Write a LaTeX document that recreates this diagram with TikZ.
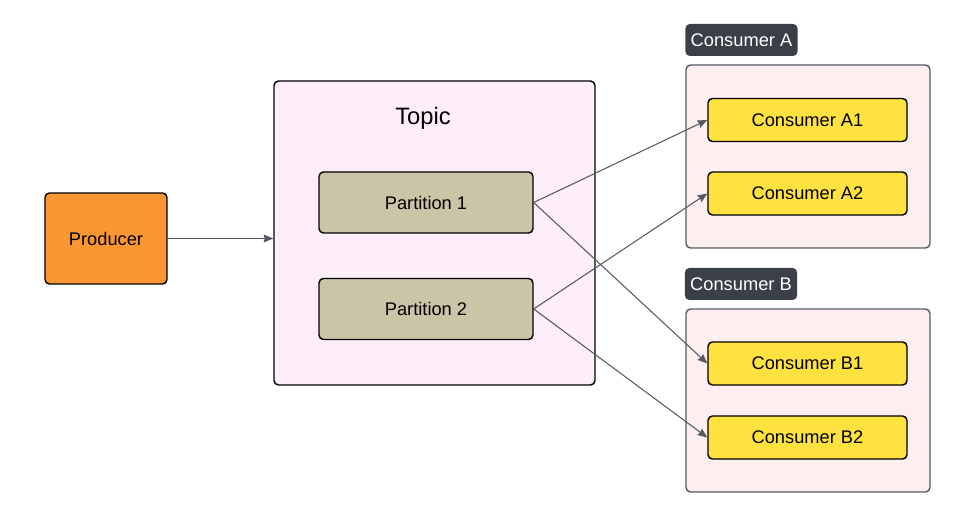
\documentclass[tikz,border=0pt]{standalone}
\usepackage{fontspec}
\setmainfont{Liberation Sans}
\usetikzlibrary{arrows.meta,positioning}
\definecolor{prodorange}{HTML}{FA9732}
\definecolor{topicpink}{HTML}{FDEEFA}
\definecolor{partkhaki}{HTML}{CCC4A6}
\definecolor{grouprose}{HTML}{FDEFEF}
\definecolor{consyellow}{HTML}{FFE240}
\definecolor{labelslate}{HTML}{3A3F48}
\definecolor{linkgray}{HTML}{555A62}

\begin{document}
\begin{tikzpicture}[x=0.02cm,y=-0.02cm,
    every node/.style={font=\fontsize{10.4}{12}\selectfont, text=black},
    box/.style={draw=black, line width=0.8pt, rounded corners=2.5pt, align=center, inner sep=0pt},
    producer/.style={box, fill=prodorange, minimum width=2.44cm, minimum height=1.82cm},
    partition/.style={box, fill=partkhaki, minimum width=4.28cm, minimum height=1.22cm},
    consumer/.style={box, fill=consyellow, minimum width=3.98cm, minimum height=0.86cm},
    topicbox/.style={box, fill=topicpink, minimum width=6.42cm, minimum height=6.08cm},
    groupbox/.style={draw=linkgray, line width=0.8pt, rounded corners=2.5pt, fill=grouprose, minimum width=4.88cm, minimum height=3.66cm},
    grouplabel/.style={fill=labelslate, text=white, rounded corners=2.5pt, inner xsep=3pt, minimum height=0.64cm},
    link/.style={draw=linkgray, line width=0.6pt, -{Stealth[length=5.5pt,width=4.5pt,inset=0.6pt]}}]
    \useasboundingbox (0,0) rectangle (975,516);

    % Topic container
    \node[topicbox] (topic) at (434.5,233) {};
    \node[font=\fontsize{13.5}{16}\selectfont] (topictitle) at (423,118) {Topic};
    \node[partition] (part1) at (426,202.5) {Partition 1};
    \node[partition] (part2) at (426,309) {Partition 2};

    % Producer
    \node[producer] (producer) at (106,238.5) {Producer};

    % Consumer groups
    \node[groupbox] (groupA) at (808,156.5) {};
    \node[grouplabel] (labelA) at (741.5,40) {Consumer A};
    \node[consumer] (consA1) at (807.5,120) {Consumer A1};
    \node[consumer] (consA2) at (807.5,193.5) {Consumer A2};

    \node[groupbox] (groupB) at (808,400.5) {};
    \node[grouplabel] (labelB) at (741,284) {Consumer B};
    \node[consumer] (consB1) at (807.5,363.5) {Consumer B1};
    \node[consumer] (consB2) at (807.5,437.5) {Consumer B2};

    % Links
    \draw[link] (producer.east) -- (producer.east -| topic.west);
    \draw[link] (part1.east) -- (consA1.west);
    \draw[link] (part1.east) -- (consB1.west);
    \draw[link] (part2.east) -- (consA2.west);
    \draw[link] (part2.east) -- (consB2.west);
\end{tikzpicture}
\end{document}
